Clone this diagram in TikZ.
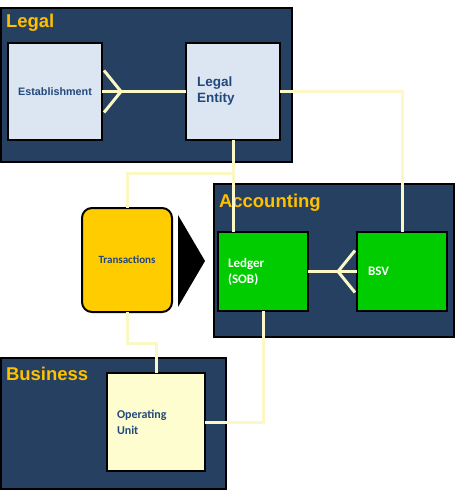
\documentclass[tikz,border=0pt]{standalone}
\usepackage{fontspec}
\setmainfont{Liberation Sans}
\newfontfamily\calib{Carlito}
\usetikzlibrary{calc}
\definecolor{panelblue}{HTML}{254061}
\definecolor{titlegold}{HTML}{FFC000}
\definecolor{boxblue}{HTML}{DCE6F2}
\definecolor{textblue}{HTML}{23487C}
\definecolor{ledgergreen}{HTML}{00CC00}
\definecolor{transgold}{HTML}{FFCC00}
\definecolor{unitcream}{HTML}{FEFDD0}
\definecolor{linkcream}{HTML}{FBF8C6}

\begin{document}
\begin{tikzpicture}[x=1pt, y=-1pt, every node/.style={inner sep=0pt, outer sep=0pt}]
	\tikzset{panel/.style={draw=black, line width=2.5pt, fill=panelblue},
		title/.style={anchor=base west, text=titlegold, font=\fontsize{18.5}{20}\selectfont\bfseries},
		box/.style={draw=black, line width=2pt},
		link/.style={draw=linkcream, line width=3pt}}
	\useasboundingbox (0,0) rectangle (458,497);
	\node[panel, minimum width=291pt, minimum height=154pt] (legal) at (146.5,85)  {};
	\node[panel, minimum width=240pt, minimum height=153pt] (acct)  at (334,260.5) {};
	\node[panel, minimum width=225pt, minimum height=131pt] (biz)   at (113.5,423.5) {};
	\node[title] (legalT) at (6,28)    {Legal};
	\node[title] (acctT)  at (219,207) {Accounting};
	\node[title] (bizT)   at (6,380)   {Business};
	\node[box, fill=boxblue, minimum width=94pt, minimum height=97pt, text=textblue, font=\fontsize{10.8}{13}\selectfont\bfseries] (est) at (55,91.5) {Establishment};
	\node[box, fill=boxblue, minimum width=94pt, minimum height=97pt, inner xsep=11pt, text width=72pt, align=left, text=textblue, font=\fontsize{13.5}{16}\selectfont\bfseries] (le) at (233,91.5) {Legal\\Entity};
	\node[box, fill=ledgergreen, minimum width=90pt, minimum height=79pt, inner xsep=10pt, text width=70pt, align=left, text=white, font=\calib\fontsize{13}{16}\selectfont\bfseries] (ledger) at (263,271.5) {Ledger\\(SOB)};
	\node[box, fill=ledgergreen, minimum width=90pt, minimum height=79pt, inner xsep=11pt, text width=68pt, align=left, text=white, font=\calib\fontsize{13}{16}\selectfont\bfseries] (bsv) at (402,271.5) {BSV};
	\node[box, fill=transgold, rounded corners=10pt, minimum width=90pt, minimum height=104pt, text=textblue, font=\calib\fontsize{11}{13}\selectfont\bfseries] (trans) at (127,260) {Transactions};
	\node[box, fill=unitcream, minimum width=98pt, minimum height=98pt, inner xsep=10pt, text width=78pt, align=left, text=textblue, font=\calib\fontsize{12}{16}\selectfont\bfseries] (ou) at (156,422) {Operating\\Unit};
	\fill[black] (178,215) -- (205,261) -- (178,307) -- cycle;
	\coordinate (j1) at (127,173);
	\coordinate (j2) at (127,343);
	\draw[link] (est.east) -- (le.west);
	\draw[link] ($(est.east)+(2,-21)$) -- ($(est.east)+(19,0)$) -- ($(est.east)+(2,21)$);
	\draw[link] (le.east) -| (bsv.north);
	\draw[link] (le.south) -- (le.south |- ledger.north);
	\draw[link] (le.south) |- (j1) -- (trans.north);
	\draw[link] (bsv.west) -- (ledger.east);
	\draw[link] ($(bsv.west)+(-2,-21)$) -- ($(bsv.west)+(-19,0)$) -- ($(bsv.west)+(-2,21)$);
	\draw[link] (trans.south) -- (j2) -| (ou.north);
	\draw[link] (ledger.south) |- (ou.east);
\end{tikzpicture}
\end{document}
